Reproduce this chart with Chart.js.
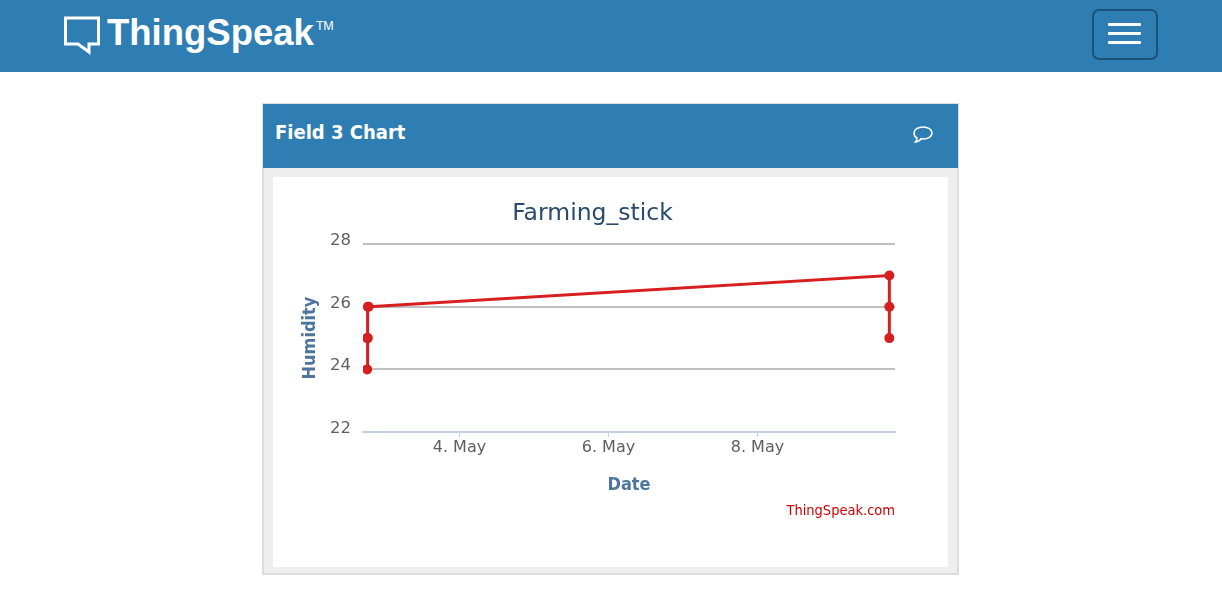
<!DOCTYPE html>
<html>
<head>
<meta charset="utf-8">
<title>Field 3 Chart</title>
<script src="https://cdn.jsdelivr.net/npm/chart.js@4"></script>
<style>
html, body { margin: 0; padding: 0; width: 1222px; height: 602px; overflow: hidden; background: #fff; font-family: "DejaVu Sans", sans-serif; }
.topbar { position: absolute; left: 0; top: 0; width: 1222px; height: 72px; background: #2e7eb3; }
.logo-icon { position: absolute; left: 64px; top: 16px; }
.logo-text { position: absolute; left: 107px; top: 10px; font: bold 36.5px/46px "Liberation Sans", sans-serif; color: #fff; }
.logo-tm { position: absolute; left: 316px; top: 18px; font: 12.5px/16px "Liberation Sans", sans-serif; color: #fff; letter-spacing: -0.3px; }
.menu-btn { position: absolute; left: 1092px; top: 9px; width: 62px; height: 47px; border: 2px solid #1d5277; border-radius: 7px; }
.menu-btn span { position: absolute; left: 14px; width: 33px; height: 3px; background: #fff; border-radius: 1px; }
.panel { position: absolute; left: 262px; top: 103px; width: 693px; height: 468px; border: 2px solid #ddd; background: #eee; }
.panel-head { position: absolute; left: -1px; top: -1px; width: 695px; height: 64px; background: #2e7eb3; }
.panel-title { position: absolute; left: 12px; top: 13px; font: bold 20px/30px "DejaVu Sans Condensed", "DejaVu Sans", sans-serif; color: #fff; }
.panel-icon { position: absolute; left: 649px; top: 21px; }
.panel-body { position: absolute; left: 9px; top: 72px; width: 675px; height: 390px; background: #fff; }
.chart-box { position: absolute; left: 0; top: 0; width: 629px; height: 390px; }
.credit { position: absolute; right: 53px; top: 324px; font: 14.5px/18px "DejaVu Sans Condensed", "DejaVu Sans", sans-serif; color: #c00; }
</style>
</head>
<body>
<div class="topbar">
  <svg class="logo-icon" width="38" height="40" viewBox="0 0 38 40">
    <path d="M1.500 2 H34.500 V28 H25 V36 L14 28 H1.500 Z" fill="none" stroke="#fff" stroke-width="3"/>
  </svg>
  <div class="logo-text">ThingSpeak</div>
  <div class="logo-tm">TM</div>
  <div class="menu-btn"><span style="top:12px"></span><span style="top:21px"></span><span style="top:30px"></span></div>
</div>
<div class="panel">
  <div class="panel-head">
    <div class="panel-title">Field 3 Chart</div>
    <svg class="panel-icon" width="22" height="20" viewBox="0 0 22 20">
      <path d="M11 2 C16 2 20 4.500 20 8 C20 11.500 16 14 11 14 C10 14 9.500 14 9 13.800 C8 15.500 6 16.500 3.500 17 C4.500 15.500 5 14.500 5 13 C3 12 2 10 2 8 C2 4.500 6 2 11 2 Z" fill="none" stroke="#fff" stroke-width="1.600"/>
    </svg>
  </div>
  <div class="panel-body">
    <div class="chart-box"><canvas id="fieldChart"></canvas></div>
    <div class="credit">ThingSpeak.com</div>
  </div>
</div>
<script>
// day of May for each reading
const readingDays = [2.76, 2.76, 2.77, 2.77, 2.78, 9.77, 9.77, 9.77];
const humidity = [24, 25, 25, 26, 26, 27, 26, 25];

const xTickDays = [4, 6, 8];
const yTicks = [22, 24, 26, 28];

const chartTitle = 'Farming_stick';
const xAxisTitle = 'Date';
const yAxisTitle = 'Humidity';
const seriesName = 'Humidity';

const points = readingDays.map((d, i) => ({ x: d, y: humidity[i] }));

new Chart(document.getElementById('fieldChart'), {
    type: 'line',
    data: {
        datasets: [{
            label: seriesName,
            data: points,
            borderColor: '#d81f20',
            backgroundColor: '#d81f20',
            borderWidth: 3,
            pointRadius: 5,
            pointBorderWidth: 0,
            tension: 0
        }]
    },
    options: {
        responsive: true,
        maintainAspectRatio: false,
        animation: false,
        // left padding also centres the title where the reference has it
        layout: { padding: { left: 17, right: 7, top: 23, bottom: 71 } },
        plugins: {
            legend: { display: false },
            tooltip: { enabled: false },
            title: {
                display: true,
                text: chartTitle,
                color: '#274b6d',
                font: { family: 'DejaVu Sans', size: 23.5, weight: 'normal' },
                padding: { top: 0, bottom: 16 }
            }
        },
        scales: {
            x: {
                type: 'linear',
                min: 2.705,
                max: 9.846,
                afterBuildTicks: axis => { axis.ticks = xTickDays.map(v => ({ value: v })); },
                afterFit: axis => { axis.height = 64; },
                ticks: {
                    color: '#606060',
                    font: { family: 'DejaVu Sans', size: 16 },
                    maxRotation: 0,
                    padding: 1,
                    callback: v => v + '. May'
                },
                grid: { drawOnChartArea: false, drawTicks: true, tickLength: 5, color: '#c0d0e0', tickWidth: 1 },
                border: { color: '#c6d2e2', width: 2 },
                title: {
                    display: true,
                    text: xAxisTitle,
                    color: '#4d759e',
                    font: { family: 'DejaVu Sans Condensed', size: 18, weight: 'bold' },
                    padding: { top: 14, bottom: 0 }
                }
            },
            y: {
                min: 22,
                max: 28,
                afterBuildTicks: axis => { axis.ticks = yTicks.map(v => ({ value: v })); },
                afterFit: axis => { axis.width = 73; },
                ticks: {
                    color: '#606060',
                    font: { family: 'DejaVu Sans', size: 16.5 },
                    labelOffset: -3.5,
                    padding: 12
                },
                grid: { color: ctx => ctx.tick.value === 22 ? 'rgba(0,0,0,0)' : '#c0c0c0', lineWidth: 2, drawTicks: false },
                border: { display: false },
                title: {
                    display: true,
                    text: yAxisTitle,
                    color: '#4d759e',
                    font: { family: 'DejaVu Sans Condensed', size: 18, weight: 'bold' },
                    padding: { top: 10, bottom: 0 }
                }
            }
        }
    }
});
</script>
</body>
</html>
